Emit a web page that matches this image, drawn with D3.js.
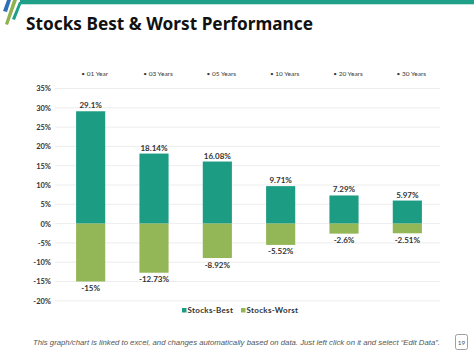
<!DOCTYPE html>
<html><head><meta charset="utf-8">
<script src="https://cdn.jsdelivr.net/npm/d3@7"></script>
<style>html,body{margin:0;padding:0;background:#fff;}svg{display:block;}</style>
</head><body>
<script>
const categories = ["01 Year","03 Years","05 Years","10 Years","20 Years","30 Years"];
const best = [29.1, 18.14, 16.08, 9.71, 7.29, 5.97];
const worst = [-15, -12.73, -8.92, -5.52, -2.6, -2.51];
const bestLabels = ["29.1%","18.14%","16.08%","9.71%","7.29%","5.97%"];
const worstLabels = ["-15%","-12.73%","-8.92%","-5.52%","-2.6%","-2.51%"];
const yTicks = [35,30,25,20,15,10,5,0,-5,-10,-15,-20];
const seriesNames = ["Stocks-Best","Stocks-Worst"];
const colors = ["#1c9c82","#93b657"];

const W=474,H=355;
const svg=d3.select("body").append("svg").attr("width",W).attr("height",H);
const font="Lato, 'Open Sans', sans-serif";

// header decoration
svg.append("rect").attr("x",20).attr("y",0).attr("width",W-20).attr("height",4).attr("fill","#1ea088");
svg.append("rect").attr("x",20).attr("y",4).attr("width",W-20).attr("height",1).attr("fill","#bfe3dc");
svg.append("polygon").attr("points","3,11 7,12 11,0 7,0").attr("fill","#2e6fb7");
svg.append("polygon").attr("points","5,24 8,25 17,0 13,0").attr("fill","#8fb24f");
svg.append("polygon").attr("points","12,19 15,20 22,2 19,2").attr("fill","#1ea088");

svg.append("text").attr("x",26).attr("y",30).text("Stocks Best & Worst Performance")
  .attr("font-family","'Noto Sans', sans-serif").attr("font-weight","bold").attr("font-size",18)
  .attr("fill","#111").attr("textLength",287).attr("lengthAdjust","spacingAndGlyphs");

const x=d3.scaleBand().domain(categories).range([59,439]).paddingInner(0.54).paddingOuter(0.27);
const y=d3.scaleLinear().domain([-20,35]).range([300.8,88.5]);

// grid
svg.append("g").selectAll("line").data(yTicks).join("line")
  .attr("x1",55).attr("x2",440).attr("y1",d=>y(d)).attr("y2",d=>y(d))
  .attr("stroke","#e8e8e8").attr("stroke-width",0.8);

// y axis labels
const yAxis=d3.axisLeft(y).tickValues(yTicks).tickFormat(d=>d+"%").tickSize(0).tickPadding(0);
const ga=svg.append("g").attr("transform","translate(51,0)").call(yAxis);
ga.select(".domain").remove();
ga.selectAll("text").attr("font-family",font).attr("font-size",7.5).attr("font-weight","bold").attr("fill","#333").attr("dy","0.33em");

// category labels at top
svg.append("g").selectAll("text").data(categories).join("text")
  .attr("x",d=>x(d)+x.bandwidth()/2+4).attr("y",75.5).attr("text-anchor","middle")
  .attr("font-family",font).attr("font-size",6.5).attr("fill","#3a3a3a").text(d=>"\u2022 "+d);

// bars
svg.append("g").selectAll("rect").data(best).join("rect")
  .attr("x",(d,i)=>x(categories[i])).attr("width",x.bandwidth())
  .attr("y",d=>y(d)).attr("height",d=>y(0)-y(d)).attr("fill",colors[0]);
svg.append("g").selectAll("rect").data(worst).join("rect")
  .attr("x",(d,i)=>x(categories[i])).attr("width",x.bandwidth())
  .attr("y",y(0)).attr("height",d=>y(d)-y(0)).attr("fill",colors[1]);

// value labels
svg.append("g").selectAll("text").data(best).join("text")
  .attr("x",(d,i)=>x(categories[i])+x.bandwidth()/2).attr("y",d=>y(d)-3)
  .attr("text-anchor","middle").attr("font-family",font).attr("font-size",8).attr("font-weight","bold").attr("fill","#333")
  .text((d,i)=>bestLabels[i]);
svg.append("g").selectAll("text").data(worst).join("text")
  .attr("x",(d,i)=>x(categories[i])+x.bandwidth()/2).attr("y",d=>y(d)+9.5)
  .attr("text-anchor","middle").attr("font-family",font).attr("font-size",8).attr("font-weight","bold").attr("fill","#333")
  .text((d,i)=>worstLabels[i]);

// legend
const legX=[182,241];
const lg=svg.append("g").selectAll("g").data(seriesNames).join("g").attr("transform",(d,i)=>`translate(${legX[i]},313)`);
lg.append("rect").attr("x",0).attr("y",-5).attr("width",4.5).attr("height",4.5).attr("fill",(d,i)=>colors[i]);
lg.append("text").attr("x",5.5).attr("y",0).attr("font-family",font).attr("font-size",8).attr("font-weight","bold")
  .attr("fill","#333").attr("letter-spacing",0.3).text(d=>d);

// footer
svg.append("text").attr("x",33).attr("y",345).attr("font-family","'Liberation Sans', Arial, sans-serif").attr("font-style","italic")
  .attr("font-size",8).attr("fill","#555").attr("textLength",407).attr("lengthAdjust","spacingAndGlyphs")
  .text("This graph/chart is linked to excel, and changes automatically based on data. Just left click on it and select \u201cEdit Data\u201d.");
svg.append("rect").attr("x",455.5).attr("y",334.5).attr("width",12).attr("height",15).attr("rx",2)
  .attr("fill","none").attr("stroke","#888").attr("stroke-width",0.8);
svg.append("text").attr("x",461.5).attr("y",345).attr("text-anchor","middle").attr("font-family",font)
  .attr("font-size",6.5).attr("fill","#555").text("19");
</script>
</body></html>
